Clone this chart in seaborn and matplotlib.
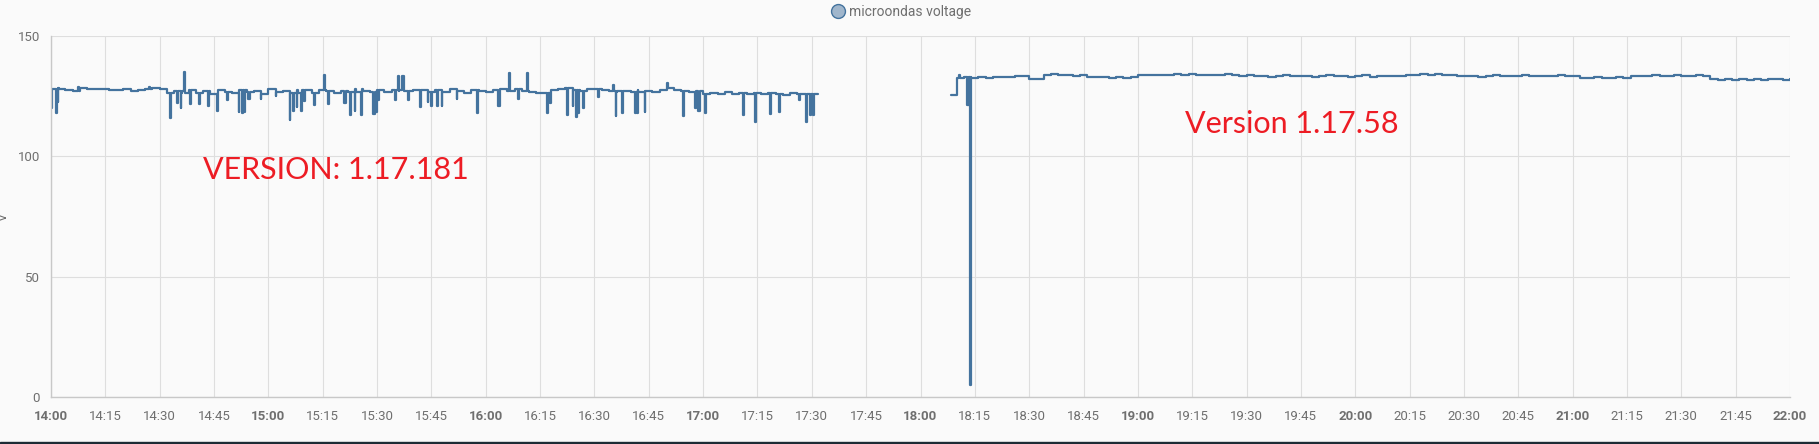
import pandas as pd
import matplotlib
matplotlib.use("Agg")
import matplotlib.pyplot as plt
from matplotlib.lines import Line2D
from matplotlib.patches import Rectangle
import seaborn as sns

DAY = "2024-01-01 "
LINE = "#44739e"

# run 1 (firmware 1.17.181): readings every 2 minutes starting 14:00
seg1_start = 0.0
seg1_step = 2.0
seg1_volts = [
    127.9, 128.2, 127.4, 127.0,
    128.4, 128.0, 127.8, 128.1, 127.6, 127.5, 127.9, 127.3, 127.7, 128.0, 128.2, 128.1,
    126.4, 127.3, 126.2, 127.6, 126.5, 127.1, 126.0, 127.4, 126.8, 126.3, 127.5, 126.6,
    127.0, 126.1, 127.8, 126.7, 127.2, 126.4, 127.4, 126.9, 126.2, 127.6, 127.0, 126.5,
    127.3, 126.8, 127.9, 127.1, 126.6, 127.5, 126.9, 127.7, 127.2, 127.0, 127.6,
    127.2, 126.6, 127.5, 126.9, 127.8, 127.0, 126.5, 127.4, 127.1, 126.7, 127.6, 127.9,
    127.3, 128.0, 127.1, 126.8, 126.4, 126.2, 127.5, 127.9, 128.4, 127.6, 127.2, 127.8,
    128.1, 127.4, 127.0, 126.8, 127.3, 126.9, 127.5, 127.1, 126.6, 127.7, 128.3, 127.4,
    127.0, 126.8, 127.2,
    126.0, 126.4, 125.8, 126.6, 126.1, 126.3, 125.7, 126.2, 125.9, 126.5, 126.0, 125.6,
    126.3, 125.9, 125.7, 125.8,
]
seg1_tail = (211.6, 125.7)
# short glitches (minute after 14:00, volts)
seg1_glitches = [
    (0.1, 119.9), (1.3, 118.2), (1.9, 122.6), (7.5, 129.0), (27.0, 128.8),
    (32.8, 116.0), (34.7, 122.2), (35.9, 120.1), (36.7, 135.0), (38.4, 121.8),
    (40.8, 121.8), (43.4, 121.0), (45.7, 118.9), (48.5, 123.3), (52.0, 118.5),
    (52.6, 118.0), (53.2, 118.5), (54.5, 124.0), (58.0, 124.0), (62.0, 125.0),
    (66.0, 115.3), (66.9, 119.0), (67.8, 120.5), (69.0, 119.0), (69.8, 123.0),
    (72.7, 121.3), (75.3, 134.0), (76.5, 121.8), (81.0, 122.0), (82.5, 117.1),
    (83.9, 119.0), (85.6, 117.1), (89.0, 117.5), (89.6, 118.5), (90.3, 123.5),
    (95.0, 123.5), (95.7, 133.3), (97.0, 133.3), (98.6, 123.5), (101.8, 120.7),
    (104.0, 122.5), (105.0, 120.8), (106.6, 120.8), (108.0, 120.8), (112.0, 124.0),
    (117.5, 118.2), (123.5, 120.8), (126.4, 134.7), (128.8, 124.0), (131.3, 134.7),
    (137.0, 117.8), (137.6, 122.0), (142.3, 117.1), (144.0, 121.0), (144.8, 116.4),
    (145.4, 118.0), (146.9, 120.0), (151.0, 124.5), (155.0, 129.5), (155.9, 116.7),
    (157.5, 117.8), (161.2, 118.2), (161.8, 118.2), (164.0, 118.5), (170.0, 130.3),
    (174.5, 116.7), (177.7, 120.0), (178.7, 118.9), (180.5, 118.0), (191.0, 117.1),
    (194.3, 114.3), (198.4, 117.5), (201.0, 118.5), (206.5, 123.5), (208.3, 114.3),
    (209.5, 117.1), (210.4, 117.1),
]

# run 2 (firmware 1.17.58): first reading 18:08, then every 2 minutes from 18:10
seg2_lead = (248.4, 125.4)
seg2_start = 250.0
seg2_step = 2.0
seg2_volts = [
    132.5, 132.8, 132.4, 132.9, 132.7, 133.0, 132.8, 133.1, 133.3, 133.5,
    132.3, 132.2,
    133.8, 134.1, 133.7, 133.9, 133.5, 133.6,
    132.9, 133.1, 132.8, 132.6, 133.0, 132.7, 133.1,
    133.6, 133.9, 133.7, 134.0, 133.8, 134.2, 133.9, 134.1, 133.8, 134.0, 133.6, 133.8,
    134.1, 133.7,
    133.3, 133.6, 133.2, 133.5, 133.1, 133.4, 133.7, 133.3, 133.2, 133.5, 133.0, 133.4,
    133.6, 133.2, 133.5, 133.1, 133.3, 133.6, 133.0, 133.4, 133.2, 133.5, 133.3, 133.7,
    134.0, 134.2, 133.9, 134.1, 133.8, 133.6, 133.4,
    133.3, 133.5, 133.1, 133.4, 133.6, 133.2, 133.5, 133.3, 133.7, 133.4, 133.2, 133.5,
    133.3, 133.6, 133.4, 133.2,
    132.7, 132.5, 132.8, 132.4, 132.6, 132.9, 132.5,
    133.2, 133.5, 133.3, 133.6, 133.4, 133.2, 133.7, 133.5, 133.3, 133.6, 133.4,
    132.1, 131.8, 132.2, 131.9, 132.0, 131.7, 132.3, 131.9, 132.1, 132.2, 131.9, 132.0,
]
seg2_glitches = [(250.6, 133.8), (252.7, 121.3), (253.1, 121.5), (253.6, 5.0)]

tick_labels = [
    "14:00", "14:15", "14:30", "14:45", "15:00", "15:15", "15:30", "15:45",
    "16:00", "16:15", "16:30", "16:45", "17:00", "17:15", "17:30", "17:45",
    "18:00", "18:15", "18:30", "18:45", "19:00", "19:15", "19:30", "19:45",
    "20:00", "20:15", "20:30", "20:45", "21:00", "21:15", "21:30", "21:45", "22:00",
]
y_ticks = [0, 50, 100, 150]


def build_series(start, step, volts, glitches, lead=None, tail=None):
    pts = [(start + step * i, v) for i, v in enumerate(volts)]
    for gm, gv in glitches:
        idx = min(max(int((gm - start) // step), 0), len(volts) - 1)
        pts.append((gm, gv))
        pts.append((gm + 0.3, volts[idx]))
    if lead:
        pts.append(lead)
    if tail:
        pts.append(tail)
    pts.sort()
    df = pd.DataFrame(pts, columns=["minute", "volts"])
    df["time"] = pd.Timestamp(DAY + "14:00") + pd.to_timedelta(df["minute"], unit="min")
    return df


seg1 = build_series(seg1_start, seg1_step, seg1_volts, seg1_glitches, tail=seg1_tail)
seg2 = build_series(seg2_start, seg2_step, seg2_volts, seg2_glitches, lead=seg2_lead)

sns.set_style("whitegrid", {"axes.facecolor": "#fafafa", "grid.color": "#dedede",
                            "axes.edgecolor": "#c8c8c8"})
plt.rcParams["font.family"] = ["Roboto", "DejaVu Sans"]

fig, ax = plt.subplots(figsize=(18.19, 4.44), dpi=100)
fig.patch.set_facecolor("#fafafa")
fig.subplots_adjust(left=51 / 1819, right=1790 / 1819, bottom=1 - 397 / 444, top=1 - 36 / 444)

for df in (seg1, seg2):
    sns.lineplot(data=df, x="time", y="volts", ax=ax, color=LINE, lw=1.6,
                 drawstyle="steps-post", estimator=None, sort=False)

tick_pos = pd.to_datetime([DAY + t for t in tick_labels])
ax.set_xticks(tick_pos)
ax.set_xticklabels(tick_labels)
for lab in ax.get_xticklabels():
    if lab.get_text().endswith(":00"):
        lab.set_fontweight("bold")
ax.set_xlim(tick_pos[0], tick_pos[-1])
ax.set_ylim(0, 150)
ax.set_yticks(y_ticks)
ax.grid(True, color="#dedede", lw=0.8)
for s in ("top", "right"):
    ax.spines[s].set_visible(False)
for s in ("left", "bottom"):
    ax.spines[s].set_linewidth(1.0)
ax.tick_params(axis="both", length=6, width=0.8, color="#c8c8c8",
               labelcolor="#6f6f6f", labelsize=9.5)
ax.tick_params(axis="x", pad=3)
ax.tick_params(axis="y", pad=2)
ax.set_xlabel("")
ax.set_ylabel("V", color="#6f6f6f", fontsize=9)
ax.yaxis.set_label_coords(-0.0235, 0.5)

ax.text(pd.Timestamp(DAY + "14:41:54"), 90.5, "VERSION: 1.17.181", color="#ed1c24",
        fontsize=22, family="Lato", va="baseline")
ax.text(pd.Timestamp(DAY + "19:13:00"), 109.8, "Version 1.17.58", color="#ed1c24",
        fontsize=22, family="Lato", va="baseline")

handle = Line2D([], [], marker="o", linestyle="none", markersize=10,
                markerfacecolor="#a0b6cc", markeredgecolor=LINE, markeredgewidth=1)
fig.legend([handle], ["microondas voltage"], loc="center", bbox_to_anchor=(0.4956, 0.973),
           frameon=False, fontsize=10, labelcolor="#6f6f6f", handletextpad=0.3,
           handlelength=1.0, borderaxespad=0)

fig.patches.append(Rectangle((0, 0), 1, 2.5 / 444, transform=fig.transFigure,
                             color="#1d2b35", zorder=5))

fig.savefig("out.png", dpi=100, facecolor=fig.get_facecolor())
